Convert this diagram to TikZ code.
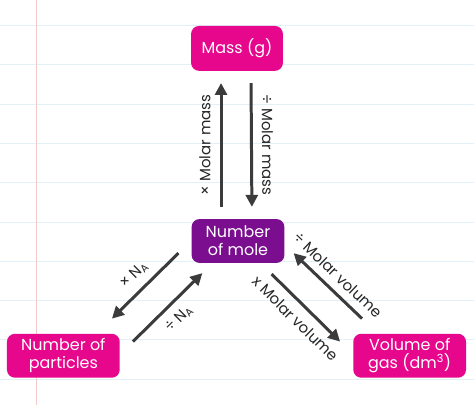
\documentclass[tikz,border=0pt]{standalone}
\usepackage{fontspec}
\setmainfont{Poppins}
\usetikzlibrary{arrows.meta}

\definecolor{hotpink}{HTML}{E6078C}
\definecolor{molepurple}{HTML}{7B0D8F}
\definecolor{arrowgrey}{HTML}{3B3B3B}
\definecolor{ruleblue}{HTML}{E2F1F8}
\definecolor{marginred}{HTML}{F2CACA}

\begin{document}
\begin{tikzpicture}[x=1pt,y=-1pt]
				\tikzstyle{quantity}=[rounded corners=8pt,text=white,align=center,
				font=\fontsize{16}{18}\selectfont,minimum width=113pt,minimum height=44pt,inner sep=1pt]
				\tikzstyle{convert}=[draw=arrowgrey,line width=3pt,-{Triangle[length=12pt,width=12pt]}]
				\tikzstyle{factor}=[font=\fontsize{15}{17}\selectfont,text=black!85,inner sep=1pt]
				% notebook paper
				\fill[white] (0,0) rectangle (474,405);
				\foreach \k in {0,...,9}
				\draw[ruleblue,line width=1pt] (0,25+39.4*\k) -- (474,25+39.4*\k);
				\draw[marginred,line width=1pt] (36,0) -- (36,405);
				% quantities
				\node[quantity,fill=hotpink,minimum width=92pt,minimum height=45pt] (mass) at (237,48) {Mass (g)};
				\node[quantity,fill=molepurple,minimum width=93pt] (mole) at (238,241) {Number\\of mole};
				\node[quantity,fill=hotpink] (particles) at (63,356) {Number of\\particles};
				\node[quantity,fill=hotpink] (gas) at (410,356) {Volume of\\gas (dm\textsuperscript{3})};
				% mass <-> mole
				\draw[convert,shorten <=12pt,shorten >=12pt] ([xshift=-17pt]mole.north) -- ([xshift=-16pt]mass.south)
				node[factor,midway,sloped,above=8pt] {× Molar mass};
				\draw[convert,shorten <=12pt,shorten >=12pt] ([xshift=14pt]mass.south) -- ([xshift=14pt]mole.north)
				node[factor,midway,sloped,above=8pt] {÷ Molar mass};
				% particles <-> mole
				\draw[convert] ([shift={(-13,-10)}]mole.south west) -- ([shift={(-8,-15)}]particles.north east)
				node[factor,midway,sloped,above=7pt] {× N\textsubscript{A}};
				\draw[convert] ([shift={(13,8)}]particles.north east) -- ([shift={(11,10)}]mole.south west)
				node[factor,midway,sloped,below=7pt] {÷ N\textsubscript{A}};
				% gas <-> mole
				\draw[convert] ([shift={(9,-15)}]gas.north west) -- ([shift={(9,-10)}]mole.south east)
				node[factor,midway,sloped,above=7pt] {÷ Molar volume};
				\draw[convert] ([shift={(-13,11)}]mole.south east) -- ([shift={(-13,8)}]gas.north west)
				node[factor,midway,sloped,below=7pt] {x Molar volume};
				\useasboundingbox (0,0) rectangle (474,405);
\end{tikzpicture}
\end{document}
